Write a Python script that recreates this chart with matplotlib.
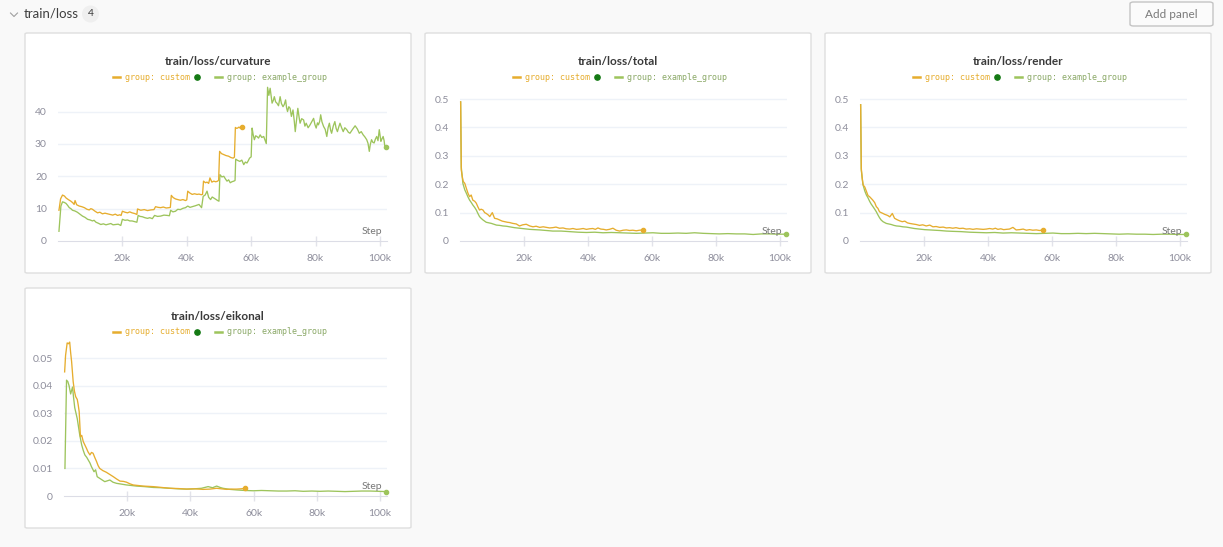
import matplotlib
matplotlib.use("Agg")
import matplotlib.pyplot as plt
from matplotlib.patches import FancyBboxPatch, Ellipse
from matplotlib.lines import Line2D

# ---- data (steps in thousands) ----
cust_curv_x = [0.3, 0.8, 1.4, 2.0, 2.5, 3.2, 4.0, 4.6, 5.0, 5.3,
               5.8, 6.6, 7.4, 8.2, 9.0, 9.7, 10.2, 10.7, 11.5, 12.3,
               13.0, 13.8, 14.6, 15.4, 16.2, 17.0, 17.8, 18.5, 19.2, 19.6,
               20.0, 20.8, 21.6, 22.3, 23.0, 23.8, 24.5, 24.7, 25.2, 25.7,
               26.8, 27.8, 28.8, 29.8, 30.3, 31.1, 31.9, 32.7, 33.6, 34.5,
               34.9, 35.2, 35.8, 36.5, 37.2, 38.0, 38.8, 39.6, 40.0, 40.3,
               41.0, 41.7, 42.4, 43.2, 43.8, 44.5, 44.9, 45.2, 45.8, 46.3,
               46.8, 47.2, 47.8, 48.4, 49.0, 49.6, 49.9, 50.2, 50.8, 51.5,
               52.2, 53.0, 53.7, 54.4, 54.8, 55.1, 55.5, 55.8, 56.2, 56.6, 57.2]
cust_curv_y = [9.5, 13.0, 14.2, 13.9, 13.3, 12.8, 12.3, 11.8, 11.3, 12.5,
               11.2, 10.8, 10.6, 10.3, 9.8, 9.6, 10.0, 9.8, 9.2, 8.7,
               8.9, 8.4, 8.6, 8.4, 8.2, 8.0, 8.3, 7.9, 8.1, 7.9,
               9.2, 8.9, 8.7, 9.0, 8.7, 8.5, 8.2, 9.9, 9.7, 9.5,
               9.7, 9.4, 9.6, 9.7, 10.6, 10.4, 10.3, 10.5, 10.2, 10.3,
               10.4, 14.1, 13.4, 13.0, 12.8, 12.6, 12.8, 12.5, 12.7, 15.4,
               14.8, 14.4, 14.6, 14.4, 14.5, 14.3, 14.4, 18.5, 18.0, 18.2,
               17.8, 19.5, 18.2, 18.5, 18.3, 18.5, 18.8, 27.7, 27.0, 26.7,
               26.4, 26.2, 25.8, 25.6, 25.9, 35.1, 34.8, 34.9, 35.2, 34.9, 35.1]

ex_curv_x = [0.3, 0.9, 1.4, 2.0, 2.5, 3.0, 3.5, 4.0, 4.5, 5.2,
             6.0, 6.8, 7.6, 8.4, 9.2, 10.0, 10.7, 11.2, 11.8, 12.5,
             13.3, 14.1, 14.9, 15.6, 16.4, 17.1, 17.9, 18.7, 19.5, 20.0,
             20.8, 21.6, 22.3, 23.0, 23.8, 24.5, 24.9, 25.5, 26.2, 27.0,
             27.8, 28.5, 29.3, 30.0, 30.9, 31.9, 32.9, 34.0, 34.6, 35.0,
             35.7, 36.5, 37.2, 38.0, 38.8, 39.6, 40.3, 41.0, 41.7, 42.7,
             43.8, 44.6, 45.1, 45.7, 46.3, 46.8, 47.4, 47.9, 48.4, 49.0,
             49.6, 50.0, 50.3, 50.9, 51.5, 52.0, 52.5, 53.0, 53.5, 54.0,
             54.6, 55.0, 55.2, 55.8, 56.5, 57.1, 57.7, 58.2, 58.7, 59.1,
             59.5, 60.0, 60.3, 60.6, 61.0, 61.4, 61.8, 62.3, 62.8, 63.3,
             63.9, 64.3, 64.7, 65.1, 65.5, 65.9, 66.5, 66.9, 67.2, 67.6,
             68.0, 68.5, 69.0, 69.4, 69.9, 70.3, 70.7, 71.0, 71.3, 71.7,
             72.1, 72.5, 73.0, 73.4, 73.7, 74.1, 74.5, 74.9, 75.2, 75.7,
             76.3, 76.7, 77.1, 77.7, 78.3, 78.8, 79.4, 79.8, 80.2, 80.6,
             80.9, 81.3, 81.6, 82.0, 82.5, 83.0, 83.5, 83.9, 84.3, 84.7,
             85.0, 85.5, 86.0, 86.4, 86.8, 87.2, 87.6, 88.1, 88.6, 89.1,
             89.7, 90.2, 90.7, 91.5, 92.3, 93.0, 93.6, 94.2, 94.8, 95.3,
             95.9, 96.3, 96.7, 97.0, 97.4, 97.8, 98.2, 98.6, 99.0, 99.4,
             99.8, 100.3, 100.6, 101.0, 101.3, 101.5, 102.0]
ex_curv_y = [3.0, 10.8, 12.1, 11.9, 11.6, 11.0, 10.3, 10.0, 9.5, 9.3,
             8.9, 8.3, 7.7, 7.3, 6.7, 6.5, 6.2, 6.4, 5.8, 5.5,
             5.1, 5.3, 5.0, 5.2, 5.4, 5.0, 5.1, 5.2, 4.8, 6.7,
             6.4, 6.5, 6.2, 6.2, 6.0, 5.8, 7.9, 7.6, 7.5, 7.2,
             7.0, 7.2, 6.9, 7.9, 7.6, 7.7, 8.0, 7.9, 7.8, 9.5,
             9.0, 9.2, 9.8, 9.7, 10.1, 10.3, 10.8, 10.4, 10.6, 10.9,
             11.3, 10.3, 13.8, 14.2, 15.4, 13.5, 12.8, 13.6, 13.3, 12.9,
             12.5, 12.3, 20.5, 19.8, 20.0, 19.2, 18.5, 18.9, 18.0, 18.3,
             18.5, 18.7, 25.3, 24.9, 24.6, 25.0, 23.6, 24.4, 24.1, 24.8,
             25.6, 26.0, 34.9, 33.0, 31.3, 32.5, 32.3, 31.8, 32.8, 32.0,
             32.3, 31.2, 30.1, 47.5, 45.0, 47.2, 42.6, 43.5, 44.6, 43.0,
             42.6, 41.8, 44.6, 42.5, 41.5, 42.2, 43.6, 41.2, 40.0, 41.5,
             41.0, 38.5, 40.5, 37.0, 33.8, 37.5, 41.0, 38.2, 36.4, 37.8,
             37.4, 35.5, 36.4, 35.0, 35.9, 36.8, 37.9, 36.0, 34.9, 36.5,
             35.9, 37.0, 39.0, 36.8, 35.4, 34.5, 32.3, 35.0, 36.4, 34.2,
             33.3, 35.5, 36.9, 34.8, 33.8, 35.2, 36.4, 35.0, 33.8, 35.0,
             34.4, 33.6, 33.3, 34.5, 35.6, 34.6, 33.3, 33.8, 32.8, 32.2,
             31.3, 30.2, 27.7, 29.8, 31.3, 30.5, 30.3, 31.5, 32.3, 31.0,
             34.4, 30.8, 31.5, 32.3, 31.0, 29.4, 29.2]

cust_total_x = [0.2, 0.4, 0.7, 1.0, 1.5, 2.0, 2.5, 3.0, 3.5, 4.0,
                4.6, 5.1, 5.6, 6.1, 6.6, 7.2, 7.7, 8.2, 8.8, 9.3,
                10.1, 10.8, 11.6, 12.4, 13.2, 14.0, 14.8, 15.5, 16.5, 17.6,
                18.6, 19.6, 20.7, 21.8, 22.8, 23.8, 24.9, 26.0, 27.0, 28.0,
                29.0, 30.0, 31.1, 32.2, 33.2, 34.3, 35.3, 36.4, 37.4, 38.5,
                39.5, 40.5, 41.5, 42.3, 43.1, 44.0, 44.9, 45.7, 46.7, 47.8,
                48.8, 49.9, 51.0, 52.0, 53.0, 54.0, 55.1, 56.1, 57.2]
cust_total_y = [0.49, 0.25, 0.227, 0.21, 0.203, 0.185, 0.168, 0.156, 0.162, 0.144,
                0.14, 0.133, 0.12, 0.109, 0.112, 0.109, 0.1, 0.097, 0.092, 0.086,
                0.1, 0.08, 0.078, 0.074, 0.07, 0.068, 0.066, 0.065, 0.062, 0.06,
                0.053, 0.057, 0.059, 0.053, 0.05, 0.052, 0.048, 0.05, 0.048, 0.046,
                0.047, 0.049, 0.045, 0.046, 0.043, 0.042, 0.044, 0.041, 0.042, 0.044,
                0.041, 0.043, 0.044, 0.041, 0.046, 0.042, 0.041, 0.039, 0.041, 0.045,
                0.038, 0.035, 0.038, 0.039, 0.037, 0.038, 0.036, 0.038, 0.039]

ex_total_x = [0.2, 0.4, 0.9, 1.5, 2.0, 2.5, 3.0, 3.5, 4.0, 4.6,
              5.1, 5.6, 6.1, 6.6, 7.2, 7.7, 8.2, 9.0, 9.8, 10.6,
              11.4, 12.4, 13.4, 14.5, 15.5, 17.0, 18.6, 20.2, 21.8, 23.3,
              24.9, 27.0, 29.0, 31.6, 34.3, 36.9, 39.5, 42.1, 44.7, 47.3,
              49.9, 52.5, 55.1, 57.7, 60.3, 62.9, 65.5, 68.1, 70.7, 73.3,
              76.0, 78.5, 81.0, 83.7, 86.4, 89.0, 91.6, 94.2, 96.8, 99.4, 102.0]
ex_total_y = [0.49, 0.26, 0.203, 0.18, 0.168, 0.155, 0.144, 0.136, 0.127, 0.118,
              0.109, 0.097, 0.086, 0.08, 0.074, 0.07, 0.066, 0.064, 0.062, 0.059,
              0.056, 0.055, 0.053, 0.052, 0.05, 0.047, 0.045, 0.043, 0.041, 0.04,
              0.039, 0.037, 0.035, 0.035, 0.033, 0.031, 0.03, 0.031, 0.029, 0.03,
              0.029, 0.028, 0.027, 0.028, 0.029, 0.027, 0.027, 0.028, 0.027, 0.029,
              0.027, 0.026, 0.025, 0.026, 0.025, 0.025, 0.023, 0.025, 0.025, 0.024, 0.024]

cust_render_x = cust_total_x
cust_render_y = [0.48, 0.256, 0.22, 0.197, 0.19, 0.175, 0.16, 0.156, 0.15, 0.144,
                 0.135, 0.121, 0.115, 0.103, 0.1, 0.097, 0.094, 0.092, 0.089, 0.085,
                 0.097, 0.08, 0.075, 0.071, 0.068, 0.07, 0.064, 0.062, 0.06, 0.058,
                 0.055, 0.057, 0.053, 0.056, 0.05, 0.051, 0.048, 0.049, 0.046, 0.047,
                 0.045, 0.047, 0.044, 0.045, 0.042, 0.043, 0.041, 0.043, 0.042, 0.041,
                 0.042, 0.044, 0.042, 0.045, 0.041, 0.043, 0.04, 0.041, 0.042, 0.048,
                 0.039, 0.04, 0.042, 0.038, 0.04, 0.038, 0.039, 0.037, 0.039]

ex_render_x = ex_total_x
ex_render_y = [0.48, 0.25, 0.2, 0.176, 0.162, 0.152, 0.14, 0.13, 0.122, 0.112,
               0.103, 0.092, 0.082, 0.074, 0.068, 0.065, 0.062, 0.06, 0.058, 0.055,
               0.053, 0.052, 0.05, 0.049, 0.047, 0.044, 0.042, 0.04, 0.039, 0.038,
               0.037, 0.035, 0.034, 0.033, 0.031, 0.03, 0.029, 0.03, 0.028, 0.029,
               0.028, 0.027, 0.026, 0.027, 0.028, 0.026, 0.026, 0.027, 0.026, 0.027,
               0.026, 0.025, 0.024, 0.025, 0.024, 0.024, 0.023, 0.024, 0.024, 0.023, 0.023]

cust_eik_x = [0.2, 0.5, 1.0, 1.4, 1.8, 2.1, 2.4, 2.9, 3.3, 3.7,
              4.2, 4.5, 4.8, 5.2, 5.6, 6.1, 6.6, 7.1, 7.6, 8.2,
              8.7, 9.2, 9.8, 10.3, 10.8, 11.3, 12.3, 13.4, 14.5, 15.6,
              16.6, 17.7, 18.8, 19.8, 20.9, 21.9, 23.5, 25.0, 26.6, 28.2,
              30.9, 33.5, 36.2, 38.8, 41.4, 44.0, 46.2, 48.3, 49.8, 51.5,
              53.0, 54.6, 56.0, 57.3]
cust_eik_y = [0.045, 0.051, 0.0555, 0.0552, 0.0558, 0.052, 0.0488, 0.0415, 0.038, 0.036,
              0.035, 0.033, 0.0306, 0.0215, 0.022, 0.0197, 0.0185, 0.0173, 0.016, 0.0149,
              0.0158, 0.0155, 0.0138, 0.0125, 0.011, 0.010, 0.0092, 0.0086, 0.0078, 0.007,
              0.0062, 0.0054, 0.0053, 0.005, 0.0044, 0.004, 0.0038, 0.0036, 0.0035, 0.0034,
              0.0031, 0.0028, 0.0027, 0.0025, 0.0026, 0.0024, 0.0025, 0.0028, 0.0026, 0.0024,
              0.0025, 0.0025, 0.0026, 0.0028]

ex_eik_x = [0.3, 0.8, 1.2, 1.6, 2.1, 2.7, 3.0, 3.4, 3.8, 4.2,
            4.6, 5.0, 5.6, 6.1, 6.6, 7.2, 7.7, 8.2, 8.7, 9.5,
            10.0, 10.5, 11.3, 12.1, 12.9, 13.7, 14.5, 15.5, 16.6, 18.2,
            19.8, 21.4, 22.9, 25.5, 28.2, 30.8, 33.5, 36.1, 38.8, 41.2,
            43.5, 45.6, 47.0, 48.3, 49.4, 50.3, 52.5, 54.6, 57.2, 59.9,
            62.5, 65.2, 67.8, 70.5, 73.1, 75.7, 78.4, 81.0, 83.6, 86.3,
            88.9, 91.6, 94.2, 96.9, 99.5, 102.0]
ex_eik_y = [0.01, 0.042, 0.0415, 0.040, 0.037, 0.0395, 0.036, 0.032, 0.030, 0.028,
            0.025, 0.022, 0.0185, 0.0165, 0.0149, 0.014, 0.013, 0.012, 0.0106, 0.0088,
            0.0095, 0.007, 0.0064, 0.0058, 0.0052, 0.0055, 0.0058, 0.005, 0.0046, 0.0043,
            0.004, 0.0038, 0.0036, 0.0034, 0.0031, 0.003, 0.0028, 0.0026, 0.0025, 0.0026,
            0.0028, 0.0034, 0.003, 0.0036, 0.0031, 0.0028, 0.0024, 0.0022, 0.002, 0.0019,
            0.002, 0.0019, 0.0018, 0.0018, 0.0019, 0.0017, 0.0018, 0.0017, 0.0018, 0.0017,
            0.0016, 0.0017, 0.0018, 0.0018, 0.0017, 0.0016]

x_ticks = [20, 40, 60, 80, 100]
x_labels = ["20k", "40k", "60k", "80k", "100k"]

# title, custom series, example series, yticks, ytick labels, ylim top
panels = [
    ("train/loss/curvature", (cust_curv_x, cust_curv_y), (ex_curv_x, ex_curv_y),
     [0, 10, 20, 30, 40], ["0", "10", "20", "30", "40"], 47.9),
    ("train/loss/total", (cust_total_x, cust_total_y), (ex_total_x, ex_total_y),
     [0, 0.1, 0.2, 0.3, 0.4, 0.5], ["0", "0.1", "0.2", "0.3", "0.4", "0.5"], 0.546),
    ("train/loss/render", (cust_render_x, cust_render_y), (ex_render_x, ex_render_y),
     [0, 0.1, 0.2, 0.3, 0.4, 0.5], ["0", "0.1", "0.2", "0.3", "0.4", "0.5"], 0.546),
    ("train/loss/eikonal", (cust_eik_x, cust_eik_y), (ex_eik_x, ex_eik_y),
     [0, 0.01, 0.02, 0.03, 0.04, 0.05], ["0", "0.01", "0.02", "0.03", "0.04", "0.05"], 0.0562),
]
# card top-left corners and axes left offsets (px)
cards = [(25, 33, 33), (425, 33, 35), (825, 33, 35), (25, 288, 39)]

C_CUST = "#e6ad2e"
C_EX = "#9dc45c"
GRID = "#eef2f8"
TICK = "#8e8e9c"
SANS = ["Lato", "DejaVu Sans"]
MONO = ["DejaVu Sans Mono"]

W, H = 1223, 547
fig = plt.figure(figsize=(W / 100, H / 100), dpi=100)
fig.patch.set_facecolor("#f9f9f9")


def fx(x):
    return x / W


def fy(y):
    return 1 - y / H


# header
fig.lines.append(Line2D([fx(10.5), fx(14), fx(17.5)], [fy(13), fy(16.5), fy(13)],
                        transform=fig.transFigure, color="#a0a0a0", lw=0.8))
fig.text(fx(24), fy(14), "train/loss", fontsize=9.5, color="#3f3f3f", ha="left", va="center",
         family=SANS)
fig.patches.append(Ellipse((fx(90.5), fy(14)), 17 / W, 17 / H, transform=fig.transFigure,
                           facecolor="#efefef", edgecolor="none"))
fig.text(fx(90.5), fy(14), "4", fontsize=7.5, color="#333333", ha="center", va="center",
         family=SANS)

# add panel button
fig.patches.append(FancyBboxPatch((fx(1130), fy(26)), 83 / W, 24 / H,
                                  boxstyle="round,pad=0,rounding_size=0.003",
                                  transform=fig.transFigure, facecolor="#fbfbfb",
                                  edgecolor="#c4c4c4", linewidth=1))
fig.text(fx(1171.5), fy(14.5), "Add panel", fontsize=8.5, color="#7a7a7a", ha="center",
         va="center", family=SANS)

CW, CH = 386, 240
for (title, cust, ex, yt, ytl, ytop), (cx, cy, aoff) in zip(panels, cards):
    fig.patches.append(FancyBboxPatch((fx(cx), fy(cy + CH)), CW / W, CH / H,
                                      boxstyle="round,pad=0,rounding_size=0.002",
                                      transform=fig.transFigure, facecolor="white",
                                      edgecolor="#dedede", linewidth=1, zorder=-5))
    mid = cx + CW / 2
    fig.text(fx(mid), fy(cy + 29), title, fontsize=8.5, fontweight="bold", color="#3a3a3a",
             ha="center", va="center", family=SANS)

    # legend
    ly = cy + 44
    fig.lines.append(Line2D([fx(cx + 88), fx(cx + 95)], [fy(ly), fy(ly)],
                            transform=fig.transFigure, color=C_CUST, lw=1.8))
    fig.text(fx(cx + 100), fy(ly), "group: custom", fontsize=6, color=C_CUST,
             ha="left", va="center", family=MONO)
    fig.lines.append(Line2D([fx(cx + 172)], [fy(ly)], transform=fig.transFigure,
                            marker="o", markersize=3.8, color="#157a15", lw=0))
    fig.lines.append(Line2D([fx(cx + 190), fx(cx + 197)], [fy(ly), fy(ly)],
                            transform=fig.transFigure, color=C_EX, lw=1.8))
    fig.text(fx(cx + 202), fy(ly), "group: example_group", fontsize=6, color="#8aa866",
             ha="left", va="center", family=MONO)

    left = cx + aoff
    right = cx + 362
    top = cy + 53
    bottom = cy + 208
    ax = fig.add_axes([fx(left), fy(bottom), (right - left) / W, (bottom - top) / H])
    ax.patch.set_alpha(0)

    for (xs, ys), col in [(ex, C_EX), (cust, C_CUST)]:
        sx = [v * 1000 for v in xs]
        ax.plot(sx, ys, color=col, lw=0.95, solid_joinstyle="round", clip_on=False)
        ax.plot(sx[-1:], ys[-1:], "o", color=col, markersize=3.0, clip_on=False)

    ax.set_xlim(0, 102200)
    ax.set_ylim(0, ytop)
    ax.set_yticks(yt)
    ax.set_yticklabels(ytl)
    ax.set_xticks([t * 1000 for t in x_ticks])
    ax.set_xticklabels(x_labels)
    for v in yt[1:]:
        ax.axhline(v, color=GRID, lw=1, zorder=0)
    for s in ["top", "right", "left"]:
        ax.spines[s].set_visible(False)
    ax.spines["bottom"].set_color("#dcdde6")
    ax.tick_params(axis="y", length=0, pad=8, labelsize=7.5, labelcolor=TICK)
    ax.tick_params(axis="x", direction="inout", length=7, width=1, color="#e2e3ea",
                   pad=6, labelsize=7.5, labelcolor=TICK)
    for lab in ax.get_xticklabels() + ax.get_yticklabels():
        lab.set_family(SANS)
    ax.text(0.985, 0.03, "Step", transform=ax.transAxes, ha="right", va="bottom",
            fontsize=7.5, color="#777777", family=SANS)

fig.savefig("out.png", dpi=100, facecolor=fig.get_facecolor())
